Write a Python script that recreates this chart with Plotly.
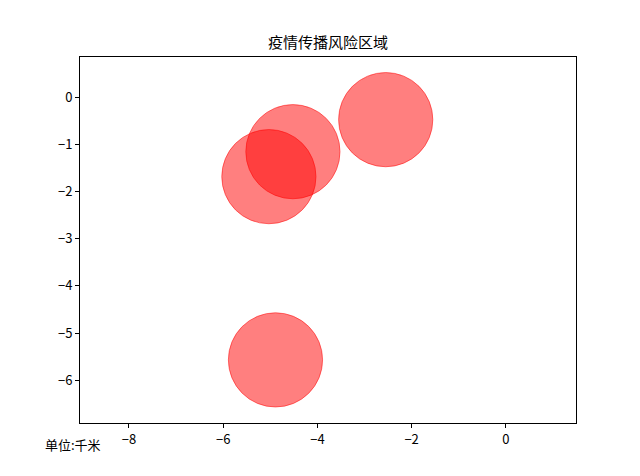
import plotly.graph_objects as go

# risk areas: centres (km) and radius
center_x = [-2.55, -4.52, -5.03, -4.89]
center_y = [-0.47, -1.15, -1.68, -5.57]
radius = [1.0, 1.0, 1.0, 1.0]

title_text = "疫情传播风险区域"
unit_text = "单位:千米"
font_family = "Noto Sans CJK SC, Microsoft YaHei, sans-serif"

fig = go.Figure()

# invisible trace so the axes exist
fig.add_trace(go.Scatter(x=center_x, y=center_y, mode="markers",
                         marker=dict(opacity=0), hoverinfo="skip",
                         showlegend=False))

for cx, cy, r in zip(center_x, center_y, radius):
    fig.add_shape(type="circle", xref="x", yref="y",
                  x0=cx - r, x1=cx + r, y0=cy - r, y1=cy + r,
                  fillcolor="rgba(255,0,0,0.5)",
                  line=dict(color="rgba(255,0,0,0.5)", width=1),
                  layer="above")

axis_style = dict(showgrid=False, zeroline=False, showline=True,
                  linecolor="black", linewidth=1, mirror=True,
                  ticks="outside", ticklen=4, tickcolor="black",
                  tickfont=dict(size=13, color="black", family=font_family))

fig.update_xaxes(range=[-9.04, 1.49], tickvals=[-8, -6, -4, -2, 0],
                 ticktext=["\u22128", "\u22126", "\u22124", "\u22122", "0"],
                 **axis_style)
fig.update_yaxes(range=[-6.91, 0.86], tickvals=[0, -1, -2, -3, -4, -5, -6],
                 ticktext=["0", "\u22121", "\u22122", "\u22123", "\u22124", "\u22125", "\u22126"],
                 **axis_style)

fig.add_annotation(text=title_text, xref="paper", yref="paper", x=0.5, y=1,
                   xanchor="center", yanchor="bottom", yshift=3,
                   showarrow=False,
                   font=dict(size=15, color="black", family=font_family))
fig.add_annotation(text=unit_text, xref="paper", yref="paper", x=-0.075, y=-0.058,
                   xanchor="left", yanchor="middle", showarrow=False,
                   font=dict(size=13, color="black", family=font_family))

# page body has an 8px margin, so the figure is a bit smaller than the window
fig.update_layout(width=632, height=468,
                  margin=dict(l=72, r=64, t=49, b=53),
                  plot_bgcolor="white", paper_bgcolor="white",
                  showlegend=False)

fig.write_html("out.html")
